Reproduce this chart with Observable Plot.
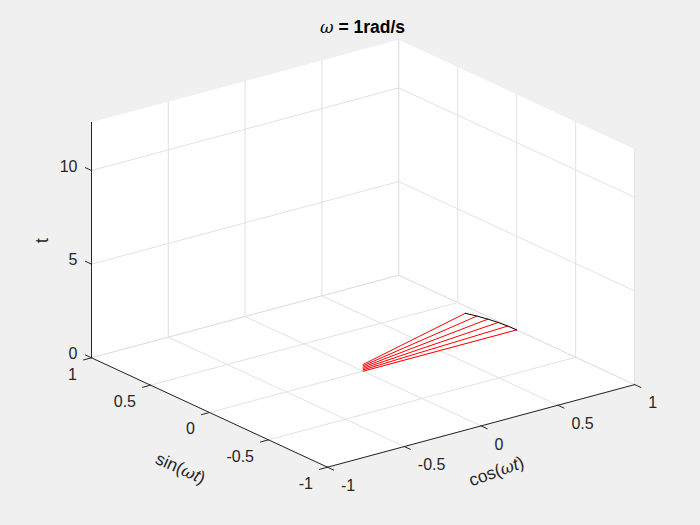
<!DOCTYPE html>
<html><head><meta charset="utf-8">
<script src="https://cdn.jsdelivr.net/npm/d3@7"></script>
<script src="https://cdn.jsdelivr.net/npm/@observablehq/plot@0.6"></script>
<style>
html,body{margin:0;padding:0;background:#f0f0f0;}
svg{display:block;}
</style></head><body>
<script>
// Values
const cosTicks = [-1, -0.5, 0, 0.5, 1];
const sinTicks = [-1, -0.5, 0, 0.5, 1];
const tTicks = [0, 5, 10];
const tMax = 12.57;
const tSamples = [0, 0.072, 0.144, 0.216, 0.288, 0.36];
const cosValues = [1, 0.997, 0.99, 0.977, 0.959, 0.936];
const sinValues = [0, 0.072, 0.143, 0.214, 0.284, 0.352];
const titleText = "ω = 1rad/s";
const xLabel = "cos(ωt)";
const yLabel = "sin(ωt)";
const zLabel = "t";

// Orthographic view of the 3-D axes, fitted to the reference
const h = (X, Y) => 153.6 * X - 118 * Y;
const v = (X, Y, Z) => 41.3 * X + 54.7 * Y + 18.73 * Z;
const P = (X, Y, Z) => ({px: h(X, Y), py: v(X, Y, Z)});
const seg = (a, b, k) => [{...P(...a), k}, {...P(...b), k}];

const wall = [[-1,1,0],[-1,1,tMax],[1,1,tMax],[1,-1,tMax],[1,-1,0],[-1,-1,0]].map(p => P(...p));

const grid = [];
cosTicks.forEach((c, i) => {
  grid.push(...seg([c,-1,0],[c,1,0],"fx"+i), ...seg([c,1,0],[c,1,tMax],"wx"+i));
});
sinTicks.forEach((s, i) => {
  grid.push(...seg([-1,s,0],[1,s,0],"fy"+i), ...seg([1,s,0],[1,s,tMax],"wy"+i));
});
tTicks.forEach((t, i) => {
  grid.push(...seg([-1,1,t],[1,1,t],"zb"+i), ...seg([1,1,t],[1,-1,t],"zr"+i));
});

const tickLen = 0.052;
const axes = [
  ...seg([-1,-1,0],[1,-1,0],"ax"),
  ...seg([-1,-1,0],[-1,1,0],"ay"),
  ...seg([-1,1,0],[-1,1,tMax],"az")
];
cosTicks.forEach((c,i) => axes.push(...seg([c,-1,0],[c,-1-tickLen,0],"tx"+i)));
sinTicks.forEach((s,i) => axes.push(...seg([-1,s,0],[-1-tickLen,s,0],"ty"+i)));
tTicks.forEach((t,i) => axes.push(...seg([-1,1,t],[-1,1+tickLen,t],"tz"+i)));

const spokes = tSamples.flatMap((t, i) => seg([0,0,t],[cosValues[i],sinValues[i],0],"s"+i));
const arc = tSamples.map((t, i) => P(cosValues[i], sinValues[i], 0));

const font = "'Liberation Sans', Arial, Helvetica, sans-serif";
const ink = "#262626";
const fs = 16;
const lab = (vals, fn, o) => Plot.text(vals, {
  x: d => fn(d).px, y: d => fn(d).py, text: d => String(d),
  fill: ink, fontSize: fs, fontFamily: font, lineAnchor: "middle", ...o
});

const chart = Plot.plot({
  width: 700, height: 525,
  marginTop: 0, marginRight: 0, marginBottom: 0, marginLeft: 0,
  style: {background: "#f0f0f0", overflow: "visible"},
  x: {type: "linear", domain: [-362.6, 337.4], range: [0, 700], axis: null},
  y: {type: "linear", domain: [-154.3, 370.7], range: [525, 0], axis: null},
  marks: [
    Plot.line(wall, {x: "px", y: "py", fill: "white", stroke: "none", curve: "linear-closed"}),
    Plot.line(grid, {x: "px", y: "py", z: "k", stroke: "#e2e2e2", strokeWidth: 1}),
    Plot.line(spokes, {x: "px", y: "py", z: "k", stroke: "#ff0000", strokeWidth: 1}),
    Plot.line(arc, {x: "px", y: "py", stroke: "#000000", strokeWidth: 1}),
    Plot.line(axes, {x: "px", y: "py", z: "k", stroke: ink, strokeWidth: 1}),
    lab(cosTicks, c => P(c,-1,0), {textAnchor: "start", dx: 13.5, dy: 18.5}),
    lab(sinTicks, s => P(-1,s,0), {textAnchor: "end", dx: -14.5, dy: 16.7}),
    lab(tTicks, t => P(-1,1,t), {textAnchor: "end", dx: -14, dy: -4}),
    Plot.text([xLabel], {frameAnchor: "top-left", dx: 496, dy: 471, text: d => d, rotate: -20,
      fill: ink, fontSize: 17.5, fontFamily: font, lineAnchor: "middle", textAnchor: "middle"}),
    Plot.text([yLabel], {frameAnchor: "top-left", dx: 180, dy: 468, text: d => d, rotate: 24,
      fill: ink, fontSize: 17.5, fontFamily: font, lineAnchor: "middle", textAnchor: "middle"}),
    Plot.text([zLabel], {frameAnchor: "top-left", dx: 42, dy: 240, text: d => d, rotate: -90,
      fill: ink, fontSize: 17.5, fontFamily: font, lineAnchor: "middle", textAnchor: "middle"}),
    Plot.text([titleText], {frameAnchor: "top-left", dx: 362, dy: 27, text: d => d,
      fill: "#000", fontSize: 17.5, fontWeight: "bold", fontFamily: font, lineAnchor: "middle", textAnchor: "middle"})
  ]
});
document.body.appendChild(chart);

// Set the Greek letter and variable in their math styles
d3.select(chart).selectAll("text").each(function () {
  const s = d3.select(this);
  const target = s.selectAll("tspan").empty() ? s : s.select("tspan");
  const str = target.text();
  if (!str.includes("ω")) return;
  target.text(null);
  str.split(/(ω|t(?=\)))/).filter(Boolean).forEach(part => {
    const sp = target.append("tspan").text(part);
    if (part === "ω") sp.attr("font-family", "'DejaVu Serif'").attr("font-style", "italic").attr("font-weight", "normal").attr("font-size", "0.95em");
    if (part === "t") sp.attr("font-style", "italic");
  });
});
</script>
</body></html>
